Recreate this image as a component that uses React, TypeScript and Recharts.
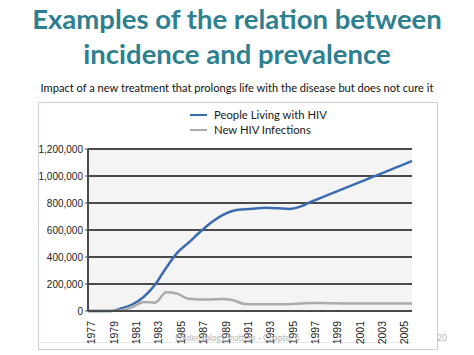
import React from "react";
import {
  LineChart,
  Line,
  XAxis,
  YAxis,
  CartesianGrid,
} from "recharts";

const years = [
  "1977", "1978", "1979", "1980", "1981", "1982", "1983", "1984", "1985", "1986",
  "1987", "1988", "1989", "1990", "1991", "1992", "1993", "1994", "1995", "1996",
  "1997", "1998", "1999", "2000", "2001", "2002", "2003", "2004", "2005", "2006",
];

const peopleLiving = [
  0, 0, 0, 20000, 50000, 106000, 195000, 320000, 432000, 506000,
  583000, 654000, 709000, 743000, 753000, 760000, 764000, 761000, 756000, 773000,
  810000, 843000, 877000, 910000, 944000, 977000, 1010000, 1044000, 1077000, 1111000,
];

const newInfections = [
  0, 0, 0, 5000, 30000, 66000, 62000, 138000, 128000, 90000,
  86000, 86000, 88000, 80000, 52000, 50000, 50000, 50000, 50000, 55000,
  60000, 59000, 57000, 56000, 56000, 56000, 56000, 56000, 56000, 56000,
];

const yTicks = [0, 200000, 400000, 600000, 800000, 1000000, 1200000];

const seriesNames = ["People Living with HIV", "New HIV Infections"];
const seriesColors = ["#3b6cb0", "#ababab"];

const data = years.map((y, i) => ({
  year: y,
  living: peopleLiving[i],
  infections: newInfections[i],
}));

const fmt = (v: number) => v.toLocaleString("en-US");

export default function App() {
  return (
    <div style={{ position: "absolute", left: 0, top: 0, width: 474, height: 355, background: "#fff", overflow: "hidden" }}>
      <div
        style={{
          position: "absolute",
          left: 0,
          top: 1,
          width: 474,
          textAlign: "center",
          fontFamily: "Lato, 'Open Sans', sans-serif",
          fontWeight: 700,
          fontSize: 27.5,
          lineHeight: "35px",
          color: "#2e7f8f",
        }}
      >
        Examples of the relation between
        <br />
        incidence and prevalence
      </div>
      <div
        style={{
          position: "absolute",
          left: 0,
          top: 81,
          width: 474,
          textAlign: "center",
          fontFamily: "Lato, 'Open Sans', sans-serif",
          fontSize: 11.1,
          color: "#111",
        }}
      >
        Impact of a new treatment that prolongs life with the disease but does not cure it
      </div>
      <div
        style={{
          position: "absolute",
          left: 38,
          top: 102,
          width: 398,
          height: 246,
          border: "1px solid #c9d3d8",
        }}
      />
      <div style={{ position: "absolute", left: 40, top: 342, width: 373, height: 1, background: "#e2e8ec" }} />
      <div
        style={{
          position: "absolute",
          left: 190,
          top: 107,
          fontFamily: "Lato, 'Open Sans', sans-serif",
          fontSize: 11.3,
          color: "#1a1a1a",
        }}
      >
        {seriesNames.map((n, i) => (
          <div key={n} style={{ display: "flex", alignItems: "center", height: 15 }}>
            <div style={{ width: 17, height: 2, background: seriesColors[i], marginRight: 7 }} />
            <span>{n}</span>
          </div>
        ))}
      </div>
      <div style={{ position: "absolute", left: 0, top: 0 }}>
        <LineChart
          width={474}
          height={355}
          data={data}
          margin={{ top: 149, right: 62, bottom: 14, left: 0 }}
        >
          <CartesianGrid
            yAxisId="left"
            vertical={false}
            fill="#f4f4f4"
            fillOpacity={1}
            stroke="#4a4a4a"
            strokeWidth={2}
            strokeOpacity={1}
          />
          <XAxis
            dataKey="year"
            interval={1}
            angle={-90}
            textAnchor="end"
            height={30}
            tickLine={false}
            axisLine={{ stroke: "#4a4a4a", strokeWidth: 2 }}
            tick={{ fill: "#222", fontSize: 10.5, fontFamily: "'Liberation Sans', Arial, sans-serif" }}
            tickMargin={4}
          />
          <YAxis
            yAxisId="left"
            width={88}
            domain={[0, 1200000]}
            ticks={yTicks}
            tickFormatter={fmt}
            axisLine={{ stroke: "#4a4a4a", strokeWidth: 2 }}
            tickLine={{ stroke: "#4a4a4a" }}
            tickSize={3}
            tick={{ fill: "#222", fontSize: 10, fontFamily: "'Liberation Sans', Arial, sans-serif" }}
          />
          <YAxis
            yAxisId="right"
            orientation="right"
            width={0}
            domain={[0, 1200000]}
            tick={false}
            tickLine={false}
            axisLine={{ stroke: "#4a4a4a", strokeWidth: 2 }}
          />
          <Line
            yAxisId="left"
            type="monotone"
            dataKey="living"
            name={seriesNames[0]}
            stroke={seriesColors[0]}
            strokeWidth={2.5}
            dot={false}
            isAnimationActive={false}
          />
          <Line
            yAxisId="left"
            type="monotone"
            dataKey="infections"
            name={seriesNames[1]}
            stroke={seriesColors[1]}
            strokeWidth={2.5}
            dot={false}
            isAnimationActive={false}
          />
        </LineChart>
      </div>
      <div
        style={{
          position: "absolute",
          left: 150,
          top: 333,
          width: 175,
          textAlign: "center",
          fontFamily: "Lato, 'Open Sans', sans-serif",
          fontSize: 8.5,
          color: "#b5b5b5",
        }}
      >
        Epidemiology matters - Chapter 5
      </div>
      <div
        style={{
          position: "absolute",
          left: 437,
          top: 333,
          fontFamily: "Lato, 'Open Sans', sans-serif",
          fontSize: 8.5,
          color: "#b5b5b5",
        }}
      >
        20
      </div>
    </div>
  );
}
